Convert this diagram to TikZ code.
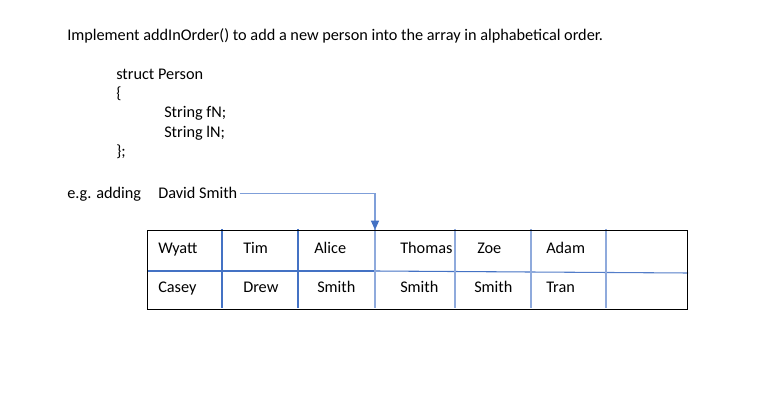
\documentclass[tikz,border=0pt]{standalone}
\usepackage{fontspec}
\setmainfont{Carlito}
\usetikzlibrary{arrows.meta}
\definecolor{darkline}{RGB}{68,114,196}
\definecolor{lightline}{RGB}{143,170,220}
\definecolor{arrowline}{RGB}{127,159,217}
\begin{document}
\begin{tikzpicture}[x=0.75pt,y=-0.75pt,
  txt/.style={anchor=base west,inner sep=0pt,font=\fontsize{12.2}{14}\selectfont},
  grid/.style={line width=0.8pt},
  border/.style={draw=black,line width=0.75pt}]
\useasboundingbox (0,0) rectangle (759,409);
\fill[white] (0,0) rectangle (759,409);
% text
\node[txt] (title) at (67,41) {Implement addInOrder() to add a new person into the array in alphabetical order.};
\node[txt] (s1) at (116,80) {struct Person};
\node[txt] (s2) at (116,99) {\{};
\node[txt] (s3) at (164,118) {String fN;};
\node[txt] (s4) at (164,138) {String lN;};
\node[txt] (s5) at (116,157) {\};};
\node[txt] (eg) at (67,199) {e.g. adding};
\node[txt] (ds) at (158,199) {David Smith};
% table
\draw[border] (147,231) rectangle (687,309);
\draw[grid,darkline] (147,271) -- (375,271);
\draw[grid,darkline] (375,271) -- (530,272);
\draw[grid,darkline!80!lightline] (530,272) -- (688,273);
\draw[grid,darkline] (222,229) -- (222,308);
\draw[grid,darkline] (298,229) -- (298,308);
\draw[grid,lightline,line width=1.2pt] (375,229) -- (375,308);
\draw[grid,lightline] (455,229) -- (455,308);
\draw[grid,lightline] (531,229) -- (531,308);
\draw[grid,lightline] (606,229) -- (606,308);
\draw[border] (147,231) rectangle (687,309);
% cells
\node[txt] (c11) at (158,253) {Wyatt};
\node[txt] (c12) at (243,253) {Tim};
\node[txt] (c13) at (314,253) {Alice};
\node[txt] (c14) at (400,253) {Thomas};
\node[txt] (c15) at (477,253) {Zoe};
\node[txt] (c16) at (546,253) {Adam};
\node[txt] (c21) at (158,292) {Casey};
\node[txt] (c22) at (243,292) {Drew};
\node[txt] (c23) at (317,292) {Smith};
\node[txt] (c24) at (400,292) {Smith};
\node[txt] (c25) at (474,292) {Smith};
\node[txt] (c26) at (546,292) {Tran};
% arrow
\coordinate (tgt) at (375,230);
\draw[arrowline,line width=0.9pt,-{Triangle[length=7pt,width=6pt,fill=darkline,color=darkline]}]
  ([xshift=1.5pt]ds.east) -| (tgt);
\end{tikzpicture}
\end{document}
